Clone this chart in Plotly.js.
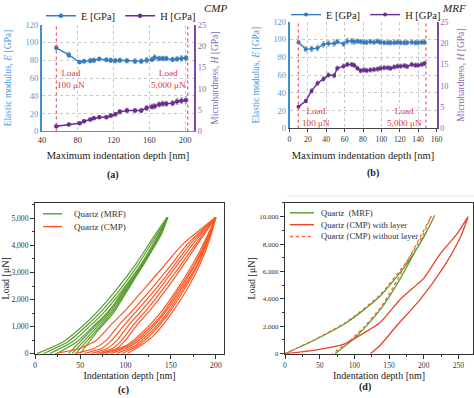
<!DOCTYPE html>
<html><head><meta charset="utf-8">
<script src="https://cdn.plot.ly/plotly-3.0.1.min.js"></script>
<style>html,body{margin:0;padding:0;background:#fff}#chart{width:474px;height:398px}</style>
</head><body><div id="chart"></div>
<script>
// ---------- Panel (a): CMP ----------
const depthA = [56, 70, 82, 87, 94, 98, 104, 112, 117, 122, 127, 135, 144, 151, 157, 163, 166, 171, 175, 179, 186, 191, 196, 201];
const eA     = [94, 86, 78, 79, 79.5, 80, 81.5, 80.5, 80, 79.5, 80, 79.5, 79, 79, 80, 81, 83, 82, 82, 82, 81, 81.5, 82, 82.5];
const eErrA  = [2, 3, 2, 2, 2.5, 2.5, 2, 2, 2.5, 2.5, 2.5, 2.5, 2.5, 2.5, 3, 2.5, 3, 2.5, 2.5, 2.5, 2.5, 2.5, 3, 3];
const hA     = [1.2, 1.6, 1.9, 2.4, 2.8, 3.1, 3.3, 3.3, 3.7, 4.0, 4.6, 4.9, 4.9, 4.9, 5.5, 5.8, 5.9, 6.3, 6.5, 6.5, 6.6, 7.0, 7.2, 7.3];
const hErrA  = [0.2, 0.2, 0.2, 0.3, 0.3, 0.3, 0.3, 0.3, 0.4, 0.4, 0.5, 0.5, 0.5, 0.5, 0.6, 0.6, 0.6, 0.6, 0.6, 0.6, 0.6, 0.7, 0.7, 0.8];
const loadLinesA = [56, 203];

// ---------- Panel (b): MRF ----------
const depthB = [9.8, 17.7, 24, 30.5, 37, 42.4, 48.6, 52, 58.8, 63, 67.8, 70.4, 74, 77.5, 81, 84, 88, 92, 96, 99, 103, 107, 110, 114, 117.5, 121, 125, 128, 133, 137, 140, 144, 147];
const eB     = [97, 89, 89.5, 90.5, 94.5, 95.5, 95.5, 97.5, 95, 98, 98, 97.5, 98, 97.5, 97, 97, 97.5, 97, 98, 97, 96.5, 96.5, 96.5, 96.5, 97, 96.5, 96.5, 96.5, 97, 96.5, 96.5, 97, 97];
const eErrB  = [2, 3, 3, 3, 3, 3, 3, 2.5, 2.5, 3, 3, 3, 2.5, 2.5, 2.5, 2.5, 2.5, 2.5, 2.5, 2.5, 2.5, 2.5, 2.5, 2.5, 2.5, 2.5, 2.5, 2.5, 2.5, 2.5, 2.5, 2.5, 2.5];
const hB     = [5.1, 6.4, 8.8, 10.6, 11.6, 12.5, 12.4, 14.1, 14.6, 15.0, 15.0, 14.8, 14.1, 13.5, 13.7, 13.6, 13.7, 13.8, 13.9, 14.1, 14.2, 14.2, 14.1, 14.4, 14.6, 14.6, 14.7, 14.5, 15.0, 14.8, 14.8, 15.0, 15.2];
const hErrB  = [0.3, 0.4, 0.5, 0.5, 0.5, 0.5, 0.5, 0.5, 0.5, 0.5, 0.5, 0.5, 0.5, 0.5, 0.5, 0.5, 0.5, 0.5, 0.5, 0.5, 0.5, 0.5, 0.5, 0.5, 0.5, 0.5, 0.5, 0.5, 0.5, 0.5, 0.5, 0.5, 0.5];
const loadLinesB = [9.5, 148.5];

// ---------- Panel (c): load–depth curves, 5,000 µN ----------
const mrfLoadLevels   = [0, 430, 1030, 1520, 2370, 3340, 4310, 5040];
const mrfUnloadLevels = [5040, 4430, 3460, 2490, 1520, 790, 0];
const mrfLoop1L = [2, 31, 53, 68, 90, 112, 131, 146];
const mrfLoop2L = [9, 36, 57, 72, 94, 115, 133, 147];
const mrfLoop3L = [16, 41, 61, 76, 97, 118, 135, 147];
const mrfLoop4L = [24, 46, 65, 80, 100, 120, 136, 146];
const mrfLoop1U = [146, 139, 121, 101, 81, 60, 37];
const mrfLoop2U = [147, 139, 122, 103, 83, 63, 41];
const mrfLoop3U = [147, 140, 123, 104, 85, 66, 45];
const mrfLoop4U = [146, 138, 123, 105, 87, 68, 50];

const cmpLoadLevels   = [0, 200, 500, 1030, 1640, 2370, 3220, 4070, 5040];
const cmpUnloadLevels = [5040, 4310, 3340, 2370, 1400, 670, 300, 0];
const cmpLoop1L = [22, 50, 68, 83, 101, 120, 142, 164, 200];
const cmpLoop2L = [44, 66, 79, 92, 109, 128, 149, 169, 200];
const cmpLoop3L = [54, 74, 85, 98, 114, 133, 153, 172, 200];
const cmpLoop4L = [62, 80, 91, 103, 119, 137, 156, 175, 199];
const cmpLoop5L = [68, 86, 96, 108, 124, 141, 160, 178, 200];
const cmpLoop6L = [74, 91, 100, 112, 128, 145, 163, 180, 200];
const cmpLoop1U = [200, 190, 175, 157, 136, 115, 101, 72];
const cmpLoop2U = [200, 191, 177, 159, 139, 118, 104, 78];
const cmpLoop3U = [200, 192, 178, 161, 141, 121, 107, 84];
const cmpLoop4U = [199, 192, 180, 163, 144, 124, 111, 90];
const cmpLoop5U = [200, 193, 181, 165, 146, 127, 114, 96];
const cmpLoop6U = [200, 194, 183, 168, 149, 131, 117, 102];

// ---------- Panel (d): load–depth curves, 10,000 µN ----------
const dMrfLoadDepth   = [0, 41, 89, 137, 176, 200, 216];
const dMrfLoadForce   = [0, 960, 2280, 4190, 6600, 8510, 10100];
const dMrfUnloadDepth = [216, 205, 186, 163, 140, 115, 95, 72];
const dMrfUnloadForce = [10100, 9000, 7300, 5200, 3400, 1900, 900, 0];

const dLayerLoadDepth   = [0, 41, 79, 89, 137, 166, 190, 200, 224, 248, 264];
const dLayerLoadForce   = [0, 240, 600, 790, 2280, 3960, 5040, 5500, 7310, 8750, 10000];
const dLayerUnloadDepth = [264, 253, 229, 195, 161, 137, 123];
const dLayerUnloadForce = [10000, 8510, 6350, 3960, 2040, 600, 0];

const dNoLayerLoadDepth   = [0, 40, 88, 136, 175, 198, 211];
const dNoLayerLoadForce   = [0, 960, 2300, 4250, 6700, 8600, 10050];
const dNoLayerUnloadDepth = [211, 200, 182, 160, 138, 113, 92, 68];
const dNoLayerUnloadForce = [10050, 9000, 7300, 5200, 3400, 1900, 900, 0];

const seriesNames = ['E [GPa]', 'H [GPa]'];
const curveNamesC = ['Quartz (MRF)', 'Quartz (CMP)'];
const curveNamesD = ['Quartz  (MRF)', 'Quartz (CMP) with layer', 'Quartz (CMP) without layer'];

// ---------- helpers ----------
const W = 474, H = 398;
const px = v => v / W;
const py = v => 1 - v / H;
function joinLoops(loops) {
  const xs = [], ys = [];
  loops.forEach((lp, i) => {
    if (i > 0) { xs.push(null); ys.push(null); }
    lp[0].forEach((v, k) => { xs.push(v); ys.push(lp[1][k]); });
    lp[2].forEach((v, k) => { xs.push(v); ys.push(lp[3][k]); });
  });
  return {x: xs, y: ys};
}
const mrfC = joinLoops([
  [mrfLoop1L, mrfLoadLevels, mrfLoop1U, mrfUnloadLevels],
  [mrfLoop2L, mrfLoadLevels, mrfLoop2U, mrfUnloadLevels],
  [mrfLoop3L, mrfLoadLevels, mrfLoop3U, mrfUnloadLevels],
  [mrfLoop4L, mrfLoadLevels, mrfLoop4U, mrfUnloadLevels]]);
const cmpC = joinLoops([
  [cmpLoop1L, cmpLoadLevels, cmpLoop1U, cmpUnloadLevels],
  [cmpLoop2L, cmpLoadLevels, cmpLoop2U, cmpUnloadLevels],
  [cmpLoop3L, cmpLoadLevels, cmpLoop3U, cmpUnloadLevels],
  [cmpLoop4L, cmpLoadLevels, cmpLoop4U, cmpUnloadLevels],
  [cmpLoop5L, cmpLoadLevels, cmpLoop5U, cmpUnloadLevels],
  [cmpLoop6L, cmpLoadLevels, cmpLoop6U, cmpUnloadLevels]]);
const mrfD = joinLoops([[dMrfLoadDepth, dMrfLoadForce, dMrfUnloadDepth, dMrfUnloadForce]]);
const layerD = joinLoops([[dLayerLoadDepth, dLayerLoadForce, dLayerUnloadDepth, dLayerUnloadForce]]);
const noLayerD = joinLoops([[dNoLayerLoadDepth, dNoLayerLoadForce, dNoLayerUnloadDepth, dNoLayerUnloadForce]]);

const FONT = 'Liberation Serif, Times New Roman, serif';
const blue = '#2f7ec4', blueTxt = '#4a9bd6', purple = '#6b2c94', purpleTxt = '#8a67b5';
const green = '#5a9e2e', orange = '#ff5522', red = '#e8442c', dotRed = '#f06a3c';
const errStyle = {type: 'data', color: '#9a9a9a', thickness: 0.8, width: 1.5};

const traces = [
  {x: depthA, y: eA, name: seriesNames[0], xaxis: 'x', yaxis: 'y', legend: 'legend', mode: 'lines+markers',
   line: {color: blue, width: 1.4}, marker: {color: blue, size: 4.5}, error_y: Object.assign({array: eErrA}, errStyle)},
  {x: depthA, y: hA, name: seriesNames[1], xaxis: 'x', yaxis: 'y2', legend: 'legend', mode: 'lines+markers',
   line: {color: purple, width: 1.4}, marker: {color: purple, size: 4.5}, error_y: Object.assign({array: hErrA}, errStyle)},
  {x: depthB, y: eB, name: seriesNames[0], xaxis: 'x2', yaxis: 'y3', legend: 'legend2', mode: 'lines+markers',
   line: {color: blue, width: 1.4}, marker: {color: blue, size: 4}, error_y: Object.assign({array: eErrB}, errStyle)},
  {x: depthB, y: hB, name: seriesNames[1], xaxis: 'x2', yaxis: 'y4', legend: 'legend2', mode: 'lines+markers',
   line: {color: purple, width: 1.4}, marker: {color: purple, size: 4}, error_y: Object.assign({array: hErrB}, errStyle)},
  {x: mrfC.x, y: mrfC.y, name: curveNamesC[0], xaxis: 'x3', yaxis: 'y5', showlegend: false, mode: 'lines',
   line: {color: green, width: 1.2, shape: 'spline', smoothing: 0.6}},
  {x: cmpC.x, y: cmpC.y, name: curveNamesC[1], xaxis: 'x3', yaxis: 'y5', showlegend: false, mode: 'lines',
   line: {color: orange, width: 1.2, shape: 'spline', smoothing: 0.6}},
  {x: mrfD.x, y: mrfD.y, name: curveNamesD[0], xaxis: 'x4', yaxis: 'y6', showlegend: false, mode: 'lines',
   line: {color: green, width: 1.3, shape: 'spline', smoothing: 0.6}},
  {x: layerD.x, y: layerD.y, name: curveNamesD[1], xaxis: 'x4', yaxis: 'y6', showlegend: false, mode: 'lines',
   line: {color: red, width: 1.3, shape: 'spline', smoothing: 0.6}},
  {x: noLayerD.x, y: noLayerD.y, name: curveNamesD[2], xaxis: 'x4', yaxis: 'y6', showlegend: false, mode: 'lines',
   line: {color: dotRed, width: 1.3, dash: 'dot', shape: 'spline', smoothing: 0.6}}
];

const tickF = (s, c) => ({family: FONT, size: s, color: c || '#333'});
const gridAx = {showgrid: true, gridcolor: '#c8c8c8', griddash: 'dot', gridwidth: 1, zeroline: false};
const boxAx = {showline: true, mirror: true, linecolor: '#333', linewidth: 1, ticks: 'outside', ticklen: 4, tickcolor: '#333',
  showgrid: false, zeroline: false};
const titleF = (s, c) => ({family: FONT, size: s, color: c || '#222'});

const layout = {
  width: W, height: H, margin: {l: 0, r: 0, t: 0, b: 0}, paper_bgcolor: '#fff', plot_bgcolor: 'rgba(0,0,0,0)',
  font: {family: FONT, color: '#333'},
  showlegend: true,
  // (a)
  xaxis: Object.assign({domain: [px(42), px(194)], anchor: 'y', range: [40, 210], tick0: 40, dtick: 40,
    showline: true, linecolor: '#8a8a8a', linewidth: 1, ticks: '', tickfont: tickF(8.5),
    title: {text: 'Maximum indentation depth [nm]', font: titleF(10.5), standoff: 8}}, gridAx),
  yaxis: Object.assign({domain: [py(127.3), py(19)], anchor: 'x', range: [0, 120], dtick: 20,
    showline: true, linecolor: '#3d8fd1', linewidth: 2, ticks: '', tickfont: tickF(8.5, blueTxt),
    title: {text: 'Elastic modulus, <i>E</i> [GPa]', font: titleF(9.5, blueTxt), standoff: 12}}, gridAx),
  yaxis2: {overlaying: 'y', side: 'right', anchor: 'x', range: [0, 25], dtick: 5, showgrid: false, zeroline: false,
    showline: true, linecolor: '#7b4aa6', linewidth: 2, ticks: '', tickfont: tickF(8.5, purpleTxt),
    title: {text: 'Microhardness, <i>H</i> [GPa]', font: titleF(9.5, purpleTxt), standoff: 6}},
  // (b)
  xaxis2: Object.assign({domain: [px(289.5), px(436.5)], anchor: 'y3', range: [0, 160], dtick: 20,
    showline: true, linecolor: '#444', linewidth: 1, ticks: 'outside', ticklen: 3, tickcolor: '#444', tickfont: tickF(7.8),
    title: {text: 'Maximum indentation depth [nm]', font: titleF(10.5), standoff: 8}}, gridAx),
  yaxis3: Object.assign({domain: [py(124.3), py(16)], anchor: 'x2', range: [0, 120], dtick: 20,
    showline: true, linecolor: '#3d8fd1', linewidth: 2, ticks: '', tickfont: tickF(8.3, blueTxt),
    title: {text: 'Elastic modulus, <i>E</i> [GPa]', font: titleF(9.5, blueTxt), standoff: 12}}, gridAx),
  yaxis4: {overlaying: 'y3', side: 'right', anchor: 'x2', range: [0, 25], dtick: 5, showgrid: false, zeroline: false,
    showline: true, linecolor: '#7b4aa6', linewidth: 2, ticks: '', tickfont: tickF(8.3, purpleTxt),
    title: {text: 'Microhardness, <i>H</i> [GPa]', font: titleF(9.5, purpleTxt), standoff: 10}},
  // (c)
  xaxis3: Object.assign({domain: [px(35), px(224)], anchor: 'y5', range: [0, 209], dtick: 50, tickfont: tickF(8),
    minor: {dtick: 25, ticks: 'outside', ticklen: 2, tickcolor: '#333'},
    title: {text: 'Indentation depth [nm]', font: titleF(10), standoff: 2}}, boxAx),
  yaxis5: Object.assign({domain: [py(353), py(200)], anchor: 'x3', range: [0, 5570], dtick: 1000, tickformat: ',d', tickfont: tickF(7.6),
    minor: {dtick: 500, ticks: 'outside', ticklen: 2, tickcolor: '#333'},
    title: {text: 'Load [μN]', font: titleF(10), standoff: 0}}, boxAx),
  // (d)
  xaxis4: Object.assign({domain: [px(285), px(473)], anchor: 'y6', range: [0, 271], dtick: 50, tickfont: tickF(7.6),
    minor: {dtick: 25, ticks: 'outside', ticklen: 2, tickcolor: '#333'},
    title: {text: 'Indentation depth [nm]', font: titleF(10), standoff: 2}}, boxAx),
  yaxis6: Object.assign({domain: [py(353), py(200)], anchor: 'x4', range: [0, 11000], dtick: 2000, tickformat: ',d', tickfont: tickF(7),
    minor: {dtick: 1000, ticks: 'outside', ticklen: 2, tickcolor: '#333'},
    title: {text: 'Load [μN]', font: titleF(10), standoff: 1}}, boxAx),
  legend: {orientation: 'h', x: px(121), xanchor: 'center', y: 1.012, yanchor: 'top', bgcolor: 'rgba(0,0,0,0)',
    font: {family: FONT, size: 10.5, color: '#222'}, itemwidth: 30, tracegroupgap: 0},
  legend2: {orientation: 'h', x: px(366), xanchor: 'center', y: 1.015, yanchor: 'top', bgcolor: 'rgba(0,0,0,0)',
    font: {family: FONT, size: 10.5, color: '#222'}, itemwidth: 30, tracegroupgap: 0},
  shapes: [],
  annotations: []
};

loadLinesA.forEach(v => layout.shapes.push({type: 'line', xref: 'x', yref: 'y domain', x0: v, x1: v, y0: 0, y1: 1,
  line: {color: '#e84a4a', width: 1.1, dash: 'dot'}}));
loadLinesB.forEach(v => layout.shapes.push({type: 'line', xref: 'x2', yref: 'y3 domain', x0: v, x1: v, y0: 0, y1: 1,
  line: {color: '#e84a4a', width: 1.1, dash: 'dot'}}));
layout.shapes.push({type: 'line', xref: 'paper', yref: 'paper', x0: px(287), x1: 1, y0: py(193), y1: py(193),
  line: {color: '#e6e6e6', width: 1}});

const ann = (x, y, text, opts) => layout.annotations.push(Object.assign({xref: 'paper', yref: 'paper', x: px(x), y: py(y),
  text: text, showarrow: false, xanchor: 'center', yanchor: 'middle', font: titleF(10)}, opts || {}));

// custom compact legends for (c) and (d)
function legendItem(x0, x1, y, color, dash, text, size) {
  layout.shapes.push({type: 'line', xref: 'paper', yref: 'paper', x0: px(x0), x1: px(x1), y0: py(y), y1: py(y),
    line: {color: color, width: 1.4, dash: dash}});
  ann(x1 + (x0 < 200 ? 10 : 5), y, text, {xanchor: 'left', font: {family: FONT, size: size, color: '#333'}});
}
legendItem(43, 62, 211, green, 'solid', curveNamesC[0], 9);
legendItem(43, 62, 224, orange, 'solid', curveNamesC[1], 9);
legendItem(290, 314, 210, green, 'solid', curveNamesD[0], 8.6);
legendItem(290, 314, 222, red, 'solid', curveNamesD[1], 8.6);
legendItem(290, 314, 234, dotRed, 'dot', curveNamesD[2], 8.6);

const redF = {family: FONT, size: 9.2, color: '#e23b3b'};
ann(71, 74, 'Load<br>100 μN', {font: redF});
ann(168, 74, 'Load<br>5,000 μN', {font: redF});
ann(316, 113, 'Load<br>100 μN', {font: redF});
ann(404, 113, 'Load<br>5,000 μN', {font: redF});
ann(216, 10, '<i>CMP</i>', {yanchor: 'bottom', font: titleF(11)});
ann(454, 10, '<i>MRF</i>', {yanchor: 'bottom', font: titleF(11)});
ann(113, 172, '<b>(a)</b>');
ann(373, 170, '<b>(b)</b>');
ann(123, 390, '<b>(c)</b>');
ann(365, 387, '<b>(d)</b>');

Plotly.newPlot('chart', traces, layout, {displayModeBar: false, staticPlot: true});
</script></body></html>
